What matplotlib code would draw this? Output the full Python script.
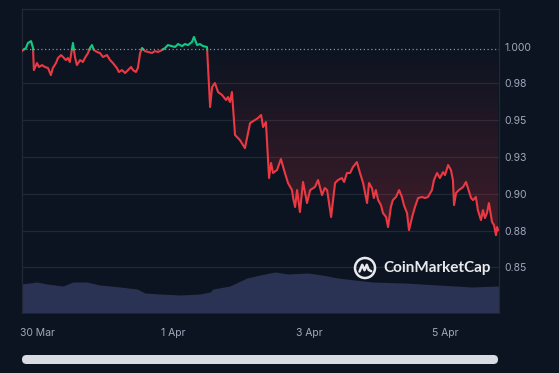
# Stablecoin-style price chart, dark theme
import matplotlib
matplotlib.use("Agg")
import matplotlib.pyplot as plt
import matplotlib.colors as mcolors
import numpy as np
from matplotlib.patches import Circle, FancyBboxPatch, Polygon

# Price data (hours since 30 Mar 00:00, price in USD)
HOURS = [-5.3, -4.9, -3.9, -3.2, -2.1, -1.4, -1.1, 0.0, 0.7, 1.8,
         2.8, 3.9, 4.9, 5.6, 6.7, 7.4, 8.5, 9.2, 10.2, 10.9,
         11.6, 12.4, 12.7, 13.4, 14.1, 15.2, 16.2, 16.9, 18.0, 18.7,
         19.4, 20.1, 21.2, 22.2, 23.3, 24.7, 25.8, 26.8, 28.2, 28.9,
         30.0, 31.1, 32.1, 33.2, 33.9, 34.9, 35.6, 36.4, 37.1, 38.1,
         39.2, 40.6, 41.6, 42.7, 44.1, 45.2, 46.2, 47.6, 48.7, 49.8,
         51.2, 52.2, 53.3, 54.7, 55.4, 56.5, 57.5, 58.6, 60.0,
         61.1, 61.8, 62.8, 63.9, 65.3, 66.7, 67.4, 68.1, 68.8, 69.9,
         71.6, 73.4, 75.2, 76.9, 78.0, 79.1, 79.8, 80.8,
         81.9, 82.6, 83.3, 84.7, 86.1, 87.5, 88.6, 90.0, 90.4, 91.1,
         91.8, 92.8, 93.9, 94.9, 95.3, 96.4, 98.1, 99.2, 100.6, 101.6,
         102.4, 103.8, 105.2, 106.2, 107.6, 108.4, 109.4, 110.5, 111.5, 112.9,
         114.0, 115.1, 115.8, 116.5,
         117.2, 118.2, 118.9, 119.6, 120.4, 121.4, 122.1, 123.2, 123.9, 124.9,
         125.6, 126.7, 127.8, 128.8, 129.5, 130.6, 131.3, 132.4, 133.4, 134.5,
         135.9, 136.9, 138.0, 139.4, 140.1, 141.2, 142.2, 143.3, 144.0, 145.1,
         146.1, 146.8, 147.2, 147.9, 148.9, 150.4, 151.4, 152.1, 153.2, 153.9,
         154.9, 155.6, 156.7, 157.4, 158.1, 158.8, 159.5, 160.6, 161.3, 162.0,
         162.4, 162.7]
PRICES = [0.9969, 0.9976, 0.9990, 1.0024, 1.0037, 0.9990, 0.9840, 0.9888, 0.9861, 0.9874,
          0.9861, 0.9854, 0.9806, 0.9854, 0.9888, 0.9922, 0.9942, 0.9929, 0.9908, 0.9922,
          0.9895, 0.9990, 1.0024, 0.9929, 0.9874, 0.9908, 0.9895, 0.9922, 0.9956, 0.9990,
          1.0010, 0.9976, 0.9963, 0.9956, 0.9929, 0.9942, 0.9908, 0.9888, 0.9854, 0.9827,
          0.9840, 0.9820, 0.9840, 0.9861, 0.9840, 0.9827, 0.9854, 0.9956, 0.9990, 0.9969,
          0.9963, 0.9956, 0.9969, 0.9963, 0.9976, 0.9990, 1.0010, 1.0003, 0.9997, 1.0017,
          1.0003, 1.0017, 1.0010, 1.0031, 1.0065, 1.0010, 1.0017, 1.0003, 0.9997,
          0.9589, 0.9725, 0.9752, 0.9691, 0.9671, 0.9637, 0.9657, 0.9623, 0.9691, 0.9399,
          0.9365, 0.9310, 0.9480, 0.9501, 0.9514, 0.9535, 0.9453, 0.9487,
          0.9107, 0.9209, 0.9141, 0.9161, 0.9236, 0.9141, 0.9073, 0.9025, 0.8971, 0.8910,
          0.9025, 0.8876, 0.9080, 0.8978, 0.8937, 0.9025, 0.9046, 0.9093, 0.8991, 0.9039,
          0.9025, 0.8842, 0.9073, 0.9093, 0.9107, 0.9080, 0.9141, 0.9141, 0.9181, 0.9215,
          0.9141, 0.9073, 0.9005, 0.8937,
          0.9073, 0.9039, 0.8971, 0.9025, 0.8957, 0.8923, 0.8869, 0.8842, 0.8774, 0.8910,
          0.8957, 0.8978, 0.9025, 0.8978, 0.8923, 0.8869, 0.8753, 0.8842, 0.8910, 0.8971,
          0.8978, 0.8971, 0.8978, 0.9025, 0.9093, 0.9141, 0.9107, 0.9147, 0.9127, 0.9195,
          0.9161, 0.9093, 0.8923, 0.9005, 0.9025, 0.9046, 0.9080, 0.9039, 0.8971, 0.8957,
          0.8978, 0.8889, 0.8821, 0.8889, 0.8835, 0.8869, 0.8937, 0.8808, 0.8787, 0.8719,
          0.8774, 0.8753]
OPEN_PRICE = 0.9981

# Volume data (hours, millions USD)
VOL_HOURS = [-5.3, 0.0, 3.5, 9.2, 12.7, 17.6, 22.2, 29.3, 35.3, 38.1,
             43.4, 50.5, 57.5, 61.1, 62.1, 68.1, 74.1, 78.7, 84.0, 88.6,
             95.6, 100.6, 106.2, 118.2, 129.9, 141.5, 153.5, 163.0]
VOLUMES = [58, 62, 58, 54, 62, 62, 56, 52, 48, 40,
           38, 36, 38, 42, 48, 54, 70, 76, 82, 78,
           80, 76, 70, 62, 60, 56, 52, 54]

# Axis labels
DAY_TICKS = [0, 48, 96, 144]
DAY_LABELS = ["30 Mar", "1 Apr", "3 Apr", "5 Apr"]
PRICE_TICKS = [0.85, 0.875, 0.9, 0.925, 0.95, 0.975, 1.0]
PRICE_LABELS = ["0.85", "0.88", "0.90", "0.93", "0.95", "0.98", "1.000"]

# Styles
BG = "#0d1421"
RED = "#ea3943"
GREEN = "#16c784"
GRID = "#232836"
VOL_COLOR = "#2a3353"
TEXT = "#a1a7bb"


# Insert crossing points so the line can switch colour exactly at the open price
def SplitAtBase(t, p, base):
    ts, ps = [t[0]], [p[0]]
    for i in range(1, len(t)):
        if (p[i-1] - base) * (p[i] - base) < 0:
            f = (base - p[i-1]) / (p[i] - p[i-1])
            ts.append(t[i-1] + f*(t[i] - t[i-1]))
            ps.append(base)
        ts.append(t[i])
        ps.append(p[i])
    return np.array(ts), np.array(ps)


# Vertical gradient clipped to the area between line and open price
def GradientFill(ax, t, p, base, color, below, y_far, a_far):
    edge = np.minimum(p, base) if below else np.maximum(p, base)
    verts = np.column_stack([np.r_[t, t[::-1]],
                             np.r_[edge, np.full(len(t), base)]])
    clip = Polygon(verts, closed=True, transform=ax.transData,
                   facecolor="none", edgecolor="none")
    ax.add_patch(clip)
    grad = np.zeros((256, 1, 4))
    grad[..., :3] = mcolors.to_rgb(color)
    if below:
        grad[:, 0, 3] = np.linspace(a_far, 0.0, 256)
        extent = [t[0], t[-1], y_far, base]
    else:
        grad[:, 0, 3] = np.linspace(0.0, a_far, 256)
        extent = [t[0], t[-1], base, y_far]
    im = ax.imshow(grad, extent=extent, origin="lower", aspect="auto",
                   interpolation="bilinear", zorder=2)
    im.set_clip_path(clip)


def Main():
    fig = plt.figure(figsize=(5.59, 3.73), dpi=100, facecolor=BG)
    ax = fig.add_axes([22/559, 1 - 313/373, 477/559, 304/373])
    ax.set_facecolor(BG)

    # Volume on its own axis at the bottom
    vol = ax.twinx()
    vol.fill_between(VOL_HOURS, VOLUMES, 0, color=VOL_COLOR, lw=0)
    vol.set_ylim(0, 608)
    vol.set_yticks([])
    for s in vol.spines.values():
        s.set_visible(False)
    ax.set_zorder(vol.get_zorder() + 1)
    ax.patch.set_visible(False)

    # Price line split into red/green around the open price
    t, p = SplitAtBase(np.array(HOURS), np.array(PRICES), OPEN_PRICE)
    GradientFill(ax, t, p, OPEN_PRICE, RED, True, 0.87, 0.24)
    GradientFill(ax, t, p, OPEN_PRICE, GREEN, False, 1.008, 0.25)
    red = np.where(p <= OPEN_PRICE, p, np.nan)
    green = np.where(p >= OPEN_PRICE, p, np.nan)
    ax.plot(t, red, color=RED, lw=1.5, zorder=4, solid_joinstyle="round")
    ax.plot(t, green, color=GREEN, lw=1.5, zorder=4, solid_joinstyle="round")
    ax.axhline(OPEN_PRICE, color="#8a90a0", lw=0.9, ls=(0, (1, 2)), zorder=3)

    # Axes limits and ticks
    ax.set_xlim(-5.29, 163.06)
    ax.set_ylim(0.8190, 1.0255)
    ax.set_xticks(DAY_TICKS)
    ax.set_xticklabels(DAY_LABELS)
    ax.yaxis.tick_right()
    ax.set_yticks(PRICE_TICKS)
    ax.set_yticklabels(PRICE_LABELS)
    ax.tick_params(axis="x", length=0, pad=11, colors=TEXT, labelsize=7.5)
    ax.tick_params(axis="y", length=0, pad=4, colors=TEXT, labelsize=7.5)
    for lab in ax.get_xticklabels() + ax.get_yticklabels():
        lab.set_family("Inter")
    ax.grid(True, axis="y", color=GRID, lw=0.9)
    ax.get_ygridlines()[-1].set_visible(False)
    for name in ["top", "left", "right"]:
        ax.spines[name].set_color(GRID)
        ax.spines[name].set_linewidth(0.9)
    ax.spines["bottom"].set_visible(False)

    # Watermark
    inch = fig.dpi_scale_trans
    fig.add_artist(Circle((3.65, 1.05), 0.1, transform=inch, fill=False,
                          ec="#e8e9ec", lw=1.8, zorder=10))
    mx = np.array([-0.55, -0.28, -0.05, 0.18, 0.36, 0.62]) * 0.1 + 3.65
    my = np.array([-0.35, 0.32, -0.22, 0.32, -0.18, -0.32]) * 0.1 + 1.05
    fig.add_artist(plt.Line2D(mx, my, transform=inch, color="#e8e9ec",
                              lw=1.8, solid_joinstyle="round",
                              solid_capstyle="round", zorder=10))
    fig.text(3.83, 1.05, "CoinMarketCap", transform=inch, ha="left",
             va="center", fontsize=11, fontweight="bold", family="Lato",
             color="#e8e9ec", zorder=10)

    # Scrollbar
    fig.add_artist(FancyBboxPatch((0.22, 0.09), 4.76, 0.09, transform=inch,
                                  boxstyle="round,pad=0,rounding_size=0.045",
                                  fc="#d9dce1", ec="none"))

    fig.savefig("out.png", dpi=100, facecolor=BG)
    plt.close("all")


if __name__ == "__main__":
    Main()
